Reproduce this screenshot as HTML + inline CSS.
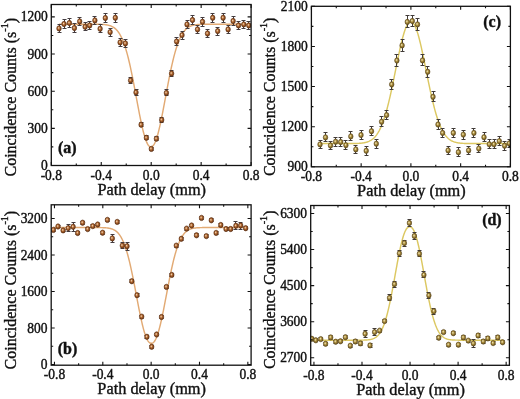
<!DOCTYPE html><html><head><meta charset="utf-8"><style>html,body{margin:0;padding:0;background:#fff;}svg{display:block;} .tx{stroke:#111;stroke-width:0.38px;}</style></head><body>
<svg width="520" height="399" viewBox="0 0 520 399">
<defs>
<radialGradient id="go" cx="0.45" cy="0.45" r="0.6" fx="0.4" fy="0.4"><stop offset="0" stop-color="#F6DCBE"/><stop offset="0.45" stop-color="#AE642C"/><stop offset="1" stop-color="#5E3014"/></radialGradient>
<radialGradient id="gy" cx="0.45" cy="0.45" r="0.6" fx="0.4" fy="0.4"><stop offset="0" stop-color="#F6EEC4"/><stop offset="0.45" stop-color="#AA8C3A"/><stop offset="1" stop-color="#5E4A1E"/></radialGradient>
</defs>
<rect width="520" height="399" fill="#fff"/>
<clipPath id="cla"><rect x="51.3" y="4.5" width="199.8" height="161"/></clipPath>
<g clip-path="url(#cla)">
<path d="M59 24.19L59.47 24.19L59.95 24.19L60.42 24.19L60.9 24.19L61.37 24.19L61.85 24.19L62.32 24.19L62.8 24.19L63.27 24.19L63.74 24.19L64.22 24.19L64.69 24.19L65.17 24.19L65.64 24.19L66.12 24.19L66.59 24.19L67.07 24.19L67.54 24.19L68.02 24.19L68.49 24.19L68.96 24.19L69.44 24.19L69.91 24.19L70.39 24.19L70.86 24.19L71.34 24.19L71.81 24.19L72.29 24.19L72.76 24.19L73.23 24.19L73.71 24.19L74.18 24.19L74.66 24.19L75.13 24.19L75.61 24.19L76.08 24.19L76.56 24.19L77.03 24.19L77.51 24.19L77.98 24.19L78.45 24.19L78.93 24.19L79.4 24.19L79.88 24.19L80.35 24.19L80.83 24.19L81.3 24.19L81.78 24.19L82.25 24.19L82.72 24.19L83.2 24.19L83.67 24.19L84.15 24.19L84.62 24.19L85.1 24.19L85.57 24.19L86.05 24.19L86.52 24.19L87 24.19L87.47 24.19L87.94 24.19L88.42 24.19L88.89 24.19L89.37 24.2L89.84 24.2L90.32 24.2L90.79 24.2L91.27 24.2L91.74 24.2L92.22 24.2L92.69 24.2L93.16 24.21L93.64 24.21L94.11 24.21L94.59 24.21L95.06 24.22L95.54 24.22L96.01 24.23L96.49 24.23L96.96 24.24L97.43 24.25L97.91 24.26L98.38 24.27L98.86 24.28L99.33 24.29L99.81 24.3L100.28 24.32L100.76 24.34L101.23 24.36L101.7 24.38L102.18 24.41L102.65 24.44L103.13 24.47L103.6 24.51L104.08 24.55L104.55 24.59L105.03 24.65L105.5 24.7L105.98 24.77L106.45 24.84L106.92 24.92L107.4 25.01L107.87 25.1L108.35 25.21L108.82 25.33L109.3 25.46L109.77 25.61L110.25 25.76L110.72 25.94L111.19 26.13L111.67 26.34L112.14 26.57L112.62 26.82L113.09 27.09L113.57 27.38L114.04 27.71L114.52 28.05L114.99 28.43L115.47 28.84L115.94 29.28L116.41 29.75L116.89 30.26L117.36 30.81L117.84 31.4L118.31 32.03L118.79 32.71L119.26 33.43L119.74 34.2L120.21 35.02L120.68 35.89L121.16 36.81L121.63 37.79L122.11 38.83L122.58 39.93L123.06 41.08L123.53 42.3L124.01 43.58L124.48 44.93L124.96 46.34L125.43 47.81L125.9 49.35L126.38 50.96L126.85 52.63L127.33 54.37L127.8 56.17L128.28 58.04L128.75 59.98L129.23 61.97L129.7 64.03L130.18 66.14L130.65 68.31L131.12 70.54L131.6 72.81L132.07 75.14L132.55 77.51L133.02 79.91L133.5 82.36L133.97 84.84L134.45 87.34L134.92 89.86L135.39 92.41L135.87 94.96L136.34 97.52L136.82 100.07L137.29 102.62L137.77 105.16L138.24 107.68L138.72 110.17L139.19 112.63L139.67 115.05L140.14 117.42L140.61 119.74L141.09 122L141.56 124.2L142.04 126.32L142.51 128.37L142.99 130.33L143.46 132.21L143.94 133.99L144.41 135.67L144.88 137.24L145.36 138.71L145.83 140.06L146.31 141.3L146.78 142.41L147.26 143.41L147.73 144.28L148.21 145.03L148.68 145.65L149.15 146.15L149.63 146.52L150.1 146.77L150.58 146.9L151.05 146.92L151.53 146.84L152 146.64L152.48 146.32L152.95 145.87L153.43 145.3L153.9 144.6L154.37 143.78L154.85 142.84L155.32 141.77L155.8 140.58L156.27 139.27L156.75 137.85L157.22 136.32L157.7 134.69L158.17 132.95L158.64 131.11L159.12 129.18L159.59 127.17L160.07 125.08L160.54 122.91L161.02 120.67L161.49 118.38L161.97 116.02L162.44 113.62L162.92 111.18L163.39 108.7L163.86 106.19L164.34 103.66L164.81 101.12L165.29 98.56L165.76 96L166.24 93.45L166.71 90.9L167.19 88.37L167.66 85.86L168.13 83.37L168.61 80.91L169.08 78.49L169.56 76.1L170.03 73.76L170.51 71.46L170.98 69.22L171.46 67.02L171.93 64.89L172.41 62.8L172.88 60.78L173.35 58.83L173.83 56.93L174.3 55.1L174.78 53.33L175.25 51.63L175.73 50L176.2 48.43L176.68 46.93L177.15 45.5L177.62 44.12L178.1 42.82L178.57 41.57L179.05 40.39L179.52 39.27L180 38.21L180.47 37.21L180.95 36.26L181.42 35.37L181.9 34.53L182.37 33.74L182.84 33L183.32 32.3L183.79 31.65L184.27 31.05L184.74 30.48L185.22 29.96L185.69 29.47L186.17 29.01L186.64 28.59L187.12 28.2L187.59 27.84L188.06 27.51L188.54 27.21L189.01 26.93L189.49 26.67L189.96 26.43L190.44 26.21L190.91 26.02L191.39 25.83L191.86 25.67L192.33 25.52L192.81 25.38L193.28 25.26L193.76 25.15L194.23 25.04L194.71 24.95L195.18 24.87L195.66 24.8L196.13 24.73L196.61 24.67L197.08 24.61L197.55 24.57L198.03 24.52L198.5 24.48L198.98 24.45L199.45 24.42L199.93 24.39L200.4 24.37L200.88 24.34L201.35 24.33L201.82 24.31L202.3 24.29L202.77 24.28L203.25 24.27L203.72 24.26L204.2 24.25L204.67 24.24L205.15 24.24L205.62 24.23L206.1 24.22L206.57 24.22L207.04 24.22L207.52 24.21L207.99 24.21L208.47 24.21L208.94 24.2L209.42 24.2L209.89 24.2L210.37 24.2L210.84 24.2L211.31 24.2L211.79 24.2L212.26 24.2L212.74 24.2L213.21 24.19L213.69 24.19L214.16 24.19L214.64 24.19L215.11 24.19L215.59 24.19L216.06 24.19L216.53 24.19L217.01 24.19L217.48 24.19L217.96 24.19L218.43 24.19L218.91 24.19L219.38 24.19L219.86 24.19L220.33 24.19L220.8 24.19L221.28 24.19L221.75 24.19L222.23 24.19L222.7 24.19L223.18 24.19L223.65 24.19L224.13 24.19L224.6 24.19L225.08 24.19L225.55 24.19L226.02 24.19L226.5 24.19L226.97 24.19L227.45 24.19L227.92 24.19L228.4 24.19L228.87 24.19L229.35 24.19L229.82 24.19L230.29 24.19L230.77 24.19L231.24 24.19L231.72 24.19L232.19 24.19L232.67 24.19L233.14 24.19L233.62 24.19L234.09 24.19L234.56 24.19L235.04 24.19L235.51 24.19L235.99 24.19L236.46 24.19L236.94 24.19L237.41 24.19L237.89 24.19L238.36 24.19L238.84 24.19L239.31 24.19L239.78 24.19L240.26 24.19L240.73 24.19L241.21 24.19L241.68 24.19L242.16 24.19L242.63 24.19L243.11 24.19L243.58 24.19L244.06 24.19L244.53 24.19L245 24.19L245.48 24.19L245.95 24.19L246.43 24.19L246.9 24.19L247.38 24.19L247.85 24.19L248.33 24.19L248.8 24.19" fill="none" stroke="#E2AA74" stroke-width="1.45"/>
<path d="M59.5 24.5V32.5M57.5 24.5h4M57.5 32.5h4M64.5 19.5V28.5M62.5 19.5h4M62.5 28.5h4M69.5 18.5V27.5M67.5 18.5h4M67.5 27.5h4M74.5 23.5V32.5M72.5 23.5h4M72.5 32.5h4M79.5 17.5V25.5M77.5 17.5h4M77.5 25.5h4M85.5 22.5V30.5M83.5 22.5h4M83.5 30.5h4M89.5 21.5V29.5M87.5 21.5h4M87.5 29.5h4M94.5 16.5V24.5M92.5 16.5h4M92.5 24.5h4M100.5 24.5V32.5M98.5 24.5h4M98.5 32.5h4M105.5 13.5V22.5M103.5 13.5h4M103.5 22.5h4M110.5 28.5V36.5M108.5 28.5h4M108.5 36.5h4M115.5 13.5V22.5M113.5 13.5h4M113.5 22.5h4M120.5 38.5V46.5M118.5 38.5h4M118.5 46.5h4M125.5 39.5V47.5M123.5 39.5h4M123.5 47.5h4M130.5 77.5V83.5M128.5 77.5h4M128.5 83.5h4M136.5 89.5V95.5M134.5 89.5h4M134.5 95.5h4M141.5 122.5V126.5M139.5 122.5h4M139.5 126.5h4M146.5 135.5V139.5M144.5 135.5h4M144.5 139.5h4M151.5 147.5V150.5M149.5 147.5h4M149.5 150.5h4M156.5 136.5V140.5M154.5 136.5h4M154.5 140.5h4M161.5 117.5V122.5M159.5 117.5h4M159.5 122.5h4M166.5 89.5V95.5M164.5 89.5h4M164.5 95.5h4M171.5 70.5V76.5M169.5 70.5h4M169.5 76.5h4M176.5 37.5V45.5M174.5 37.5h4M174.5 45.5h4M182.5 31.5V39.5M180.5 31.5h4M180.5 39.5h4M187.5 20.5V28.5M185.5 20.5h4M185.5 28.5h4M192.5 15.5V24.5M190.5 15.5h4M190.5 24.5h4M197.5 25.5V33.5M195.5 25.5h4M195.5 33.5h4M202.5 17.5V26.5M200.5 17.5h4M200.5 26.5h4M207.5 29.5V37.5M205.5 29.5h4M205.5 37.5h4M212.5 13.5V22.5M210.5 13.5h4M210.5 22.5h4M217.5 27.5V35.5M215.5 27.5h4M215.5 35.5h4M223.5 13.5V22.5M221.5 13.5h4M221.5 22.5h4M228.5 25.5V33.5M226.5 25.5h4M226.5 33.5h4M233.5 16.5V25.5M231.5 16.5h4M231.5 25.5h4M238.5 21.5V29.5M236.5 21.5h4M236.5 29.5h4M243.5 20.5V28.5M241.5 20.5h4M241.5 28.5h4M248.5 21.5V29.5M246.5 21.5h4M246.5 29.5h4" stroke="#433C40" stroke-width="1" fill="none"/>
<ellipse cx="59" cy="28.4" rx="2.25" ry="2.7" fill="url(#go)" stroke="#5E3014" stroke-width="0.6"/>
<ellipse cx="64" cy="24" rx="2.25" ry="2.7" fill="url(#go)" stroke="#5E3014" stroke-width="0.6"/>
<ellipse cx="69.4" cy="23" rx="2.25" ry="2.7" fill="url(#go)" stroke="#5E3014" stroke-width="0.6"/>
<ellipse cx="74.4" cy="28" rx="2.25" ry="2.7" fill="url(#go)" stroke="#5E3014" stroke-width="0.6"/>
<ellipse cx="79.7" cy="21.4" rx="2.25" ry="2.7" fill="url(#go)" stroke="#5E3014" stroke-width="0.6"/>
<ellipse cx="85.1" cy="26.8" rx="2.25" ry="2.7" fill="url(#go)" stroke="#5E3014" stroke-width="0.6"/>
<ellipse cx="89.7" cy="25.4" rx="2.25" ry="2.7" fill="url(#go)" stroke="#5E3014" stroke-width="0.6"/>
<ellipse cx="94.9" cy="20.4" rx="2.25" ry="2.7" fill="url(#go)" stroke="#5E3014" stroke-width="0.6"/>
<ellipse cx="100.1" cy="28.8" rx="2.25" ry="2.7" fill="url(#go)" stroke="#5E3014" stroke-width="0.6"/>
<ellipse cx="105.3" cy="18" rx="2.25" ry="2.7" fill="url(#go)" stroke="#5E3014" stroke-width="0.6"/>
<ellipse cx="110.1" cy="32.1" rx="2.25" ry="2.7" fill="url(#go)" stroke="#5E3014" stroke-width="0.6"/>
<ellipse cx="115.3" cy="17.8" rx="2.25" ry="2.7" fill="url(#go)" stroke="#5E3014" stroke-width="0.6"/>
<ellipse cx="120.1" cy="42.4" rx="2.25" ry="2.7" fill="url(#go)" stroke="#5E3014" stroke-width="0.6"/>
<ellipse cx="125.4" cy="43.4" rx="2.25" ry="2.7" fill="url(#go)" stroke="#5E3014" stroke-width="0.6"/>
<ellipse cx="130.6" cy="80.4" rx="2.25" ry="2.7" fill="url(#go)" stroke="#5E3014" stroke-width="0.6"/>
<ellipse cx="136" cy="92.4" rx="2.25" ry="2.7" fill="url(#go)" stroke="#5E3014" stroke-width="0.6"/>
<ellipse cx="141.1" cy="124.7" rx="2.25" ry="2.7" fill="url(#go)" stroke="#5E3014" stroke-width="0.6"/>
<ellipse cx="146.4" cy="137.8" rx="2.25" ry="2.7" fill="url(#go)" stroke="#5E3014" stroke-width="0.6"/>
<ellipse cx="151.3" cy="148.9" rx="2.25" ry="2.7" fill="url(#go)" stroke="#5E3014" stroke-width="0.6"/>
<ellipse cx="156.4" cy="138.7" rx="2.25" ry="2.7" fill="url(#go)" stroke="#5E3014" stroke-width="0.6"/>
<ellipse cx="161.7" cy="119.9" rx="2.25" ry="2.7" fill="url(#go)" stroke="#5E3014" stroke-width="0.6"/>
<ellipse cx="166.4" cy="92.9" rx="2.25" ry="2.7" fill="url(#go)" stroke="#5E3014" stroke-width="0.6"/>
<ellipse cx="171.6" cy="73.5" rx="2.25" ry="2.7" fill="url(#go)" stroke="#5E3014" stroke-width="0.6"/>
<ellipse cx="176.6" cy="41.5" rx="2.25" ry="2.7" fill="url(#go)" stroke="#5E3014" stroke-width="0.6"/>
<ellipse cx="182" cy="35.1" rx="2.25" ry="2.7" fill="url(#go)" stroke="#5E3014" stroke-width="0.6"/>
<ellipse cx="187" cy="24.4" rx="2.25" ry="2.7" fill="url(#go)" stroke="#5E3014" stroke-width="0.6"/>
<ellipse cx="192.5" cy="20" rx="2.25" ry="2.7" fill="url(#go)" stroke="#5E3014" stroke-width="0.6"/>
<ellipse cx="197.5" cy="29.4" rx="2.25" ry="2.7" fill="url(#go)" stroke="#5E3014" stroke-width="0.6"/>
<ellipse cx="202.5" cy="21.8" rx="2.25" ry="2.7" fill="url(#go)" stroke="#5E3014" stroke-width="0.6"/>
<ellipse cx="207.5" cy="33.5" rx="2.25" ry="2.7" fill="url(#go)" stroke="#5E3014" stroke-width="0.6"/>
<ellipse cx="212.7" cy="17.8" rx="2.25" ry="2.7" fill="url(#go)" stroke="#5E3014" stroke-width="0.6"/>
<ellipse cx="217.7" cy="31.1" rx="2.25" ry="2.7" fill="url(#go)" stroke="#5E3014" stroke-width="0.6"/>
<ellipse cx="223.1" cy="17.8" rx="2.25" ry="2.7" fill="url(#go)" stroke="#5E3014" stroke-width="0.6"/>
<ellipse cx="228.1" cy="29.4" rx="2.25" ry="2.7" fill="url(#go)" stroke="#5E3014" stroke-width="0.6"/>
<ellipse cx="233.1" cy="21" rx="2.25" ry="2.7" fill="url(#go)" stroke="#5E3014" stroke-width="0.6"/>
<ellipse cx="238.5" cy="25.4" rx="2.25" ry="2.7" fill="url(#go)" stroke="#5E3014" stroke-width="0.6"/>
<ellipse cx="243.8" cy="24.4" rx="2.25" ry="2.7" fill="url(#go)" stroke="#5E3014" stroke-width="0.6"/>
<ellipse cx="248.8" cy="25.4" rx="2.25" ry="2.7" fill="url(#go)" stroke="#5E3014" stroke-width="0.6"/>
</g>
<rect x="51.3" y="4.5" width="199.8" height="161" fill="none" stroke="#111" stroke-width="1.3"/>
<path d="M51.3 165.5v-3.5M51.3 4.5v3.5M101.25 165.5v-3.5M101.25 4.5v3.5M151.2 165.5v-3.5M151.2 4.5v3.5M201.15 165.5v-3.5M201.15 4.5v3.5M251.1 165.5v-3.5M251.1 4.5v3.5M76.28 165.5v-2M76.28 4.5v2M126.23 165.5v-2M126.23 4.5v2M176.18 165.5v-2M176.18 4.5v2M226.12 165.5v-2M226.12 4.5v2M51.3 165.5h3.5M251.1 165.5h-3.5M51.3 128.35h3.5M251.1 128.35h-3.5M51.3 91.19h3.5M251.1 91.19h-3.5M51.3 54.04h3.5M251.1 54.04h-3.5M51.3 16.88h3.5M251.1 16.88h-3.5M51.3 146.92h2M251.1 146.92h-2M51.3 109.77h2M251.1 109.77h-2M51.3 72.62h2M251.1 72.62h-2M51.3 35.46h2M251.1 35.46h-2" stroke="#111" stroke-width="1.1" fill="none"/>
<g font-family='"Liberation Serif", "Times New Roman", serif' font-size="13.5" fill="#111" class="tx">
<text transform="translate(51.3 179.7) scale(1 1.15)" text-anchor="middle">-0.8</text>
<text transform="translate(101.25 179.7) scale(1 1.15)" text-anchor="middle">-0.4</text>
<text transform="translate(151.2 179.7) scale(1 1.15)" text-anchor="middle">0.0</text>
<text transform="translate(201.15 179.7) scale(1 1.15)" text-anchor="middle">0.4</text>
<text transform="translate(251.1 179.7) scale(1 1.15)" text-anchor="middle">0.8</text>
<text transform="translate(47.7 170.1) scale(1 1.15)" text-anchor="end">0</text>
<text transform="translate(47.7 132.95) scale(1 1.15)" text-anchor="end">300</text>
<text transform="translate(47.7 95.79) scale(1 1.15)" text-anchor="end">600</text>
<text transform="translate(47.7 58.64) scale(1 1.15)" text-anchor="end">900</text>
<text transform="translate(47.7 21.48) scale(1 1.15)" text-anchor="end">1200</text>
</g>
<text transform="translate(151.7 194.7) scale(1 1.07)" text-anchor="middle" font-family='"Liberation Serif", "Times New Roman", serif' font-size="16.3" fill="#111" class="tx">Path delay (mm)</text>
<text transform="translate(15.6 97.25) rotate(-90)" text-anchor="middle" font-family='"Liberation Serif", "Times New Roman", serif' font-size="16" fill="#111" class="tx">Coincidence Counts (s<tspan font-size="10" dy="-7.5">-1</tspan><tspan dy="7.5">)</tspan></text>
<text transform="translate(58 152.5) scale(1 1.08)" text-anchor="start" font-family='"Liberation Serif", "Times New Roman", serif' font-size="16" font-weight="bold" fill="#111" class="tx">(a)</text>
<clipPath id="clb"><rect x="51.2" y="204.8" width="199.9" height="160.4"/></clipPath>
<g clip-path="url(#clb)">
<path d="M53.4 227.54L53.88 227.54L54.36 227.54L54.84 227.54L55.32 227.54L55.8 227.54L56.28 227.54L56.77 227.54L57.25 227.54L57.73 227.54L58.21 227.54L58.69 227.54L59.17 227.54L59.65 227.54L60.13 227.54L60.61 227.54L61.09 227.54L61.57 227.54L62.05 227.54L62.53 227.54L63.01 227.54L63.5 227.54L63.98 227.54L64.46 227.54L64.94 227.54L65.42 227.54L65.9 227.54L66.38 227.54L66.86 227.54L67.34 227.54L67.82 227.54L68.3 227.54L68.78 227.54L69.26 227.54L69.75 227.54L70.23 227.54L70.71 227.54L71.19 227.54L71.67 227.54L72.15 227.54L72.63 227.54L73.11 227.54L73.59 227.54L74.07 227.54L74.55 227.54L75.03 227.54L75.51 227.54L76 227.54L76.48 227.54L76.96 227.54L77.44 227.54L77.92 227.54L78.4 227.54L78.88 227.54L79.36 227.54L79.84 227.54L80.32 227.54L80.8 227.54L81.28 227.54L81.76 227.54L82.25 227.54L82.73 227.54L83.21 227.54L83.69 227.54L84.17 227.54L84.65 227.54L85.13 227.54L85.61 227.54L86.09 227.54L86.57 227.54L87.05 227.54L87.53 227.54L88.01 227.54L88.49 227.54L88.98 227.54L89.46 227.54L89.94 227.54L90.42 227.54L90.9 227.54L91.38 227.54L91.86 227.54L92.34 227.54L92.82 227.54L93.3 227.54L93.78 227.54L94.26 227.54L94.74 227.55L95.23 227.55L95.71 227.55L96.19 227.55L96.67 227.55L97.15 227.56L97.63 227.56L98.11 227.56L98.59 227.57L99.07 227.57L99.55 227.58L100.03 227.59L100.51 227.59L100.99 227.6L101.47 227.61L101.96 227.63L102.44 227.64L102.92 227.66L103.4 227.67L103.88 227.7L104.36 227.72L104.84 227.75L105.32 227.78L105.8 227.82L106.28 227.86L106.76 227.9L107.24 227.96L107.72 228.02L108.21 228.08L108.69 228.16L109.17 228.24L109.65 228.34L110.13 228.44L110.61 228.56L111.09 228.69L111.57 228.84L112.05 229L112.53 229.18L113.01 229.37L113.49 229.59L113.97 229.83L114.46 230.1L114.94 230.38L115.42 230.7L115.9 231.05L116.38 231.43L116.86 231.84L117.34 232.29L117.82 232.77L118.3 233.3L118.78 233.87L119.26 234.48L119.74 235.14L120.22 235.85L120.7 236.62L121.19 237.43L121.67 238.31L122.15 239.24L122.63 240.23L123.11 241.28L123.59 242.4L124.07 243.58L124.55 244.83L125.03 246.15L125.51 247.54L125.99 248.99L126.47 250.52L126.95 252.12L127.44 253.79L127.92 255.53L128.4 257.34L128.88 259.22L129.36 261.16L129.84 263.17L130.32 265.24L130.8 267.38L131.28 269.57L131.76 271.82L132.24 274.12L132.72 276.46L133.2 278.85L133.69 281.28L134.17 283.73L134.65 286.22L135.13 288.73L135.61 291.25L136.09 293.78L136.57 296.32L137.05 298.85L137.53 301.37L138.01 303.88L138.49 306.36L138.97 308.81L139.45 311.22L139.94 313.58L140.42 315.89L140.9 318.15L141.38 320.34L141.86 322.45L142.34 324.49L142.82 326.44L143.3 328.31L143.78 330.08L144.26 331.74L144.74 333.31L145.22 334.77L145.7 336.11L146.18 337.35L146.67 338.46L147.15 339.46L147.63 340.34L148.11 341.11L148.59 341.75L149.07 342.28L149.55 342.69L150.03 342.99L150.51 343.19L150.99 343.29L151.47 343.31L151.95 343.25L152.43 343.11L152.92 342.86L153.4 342.5L153.88 342.04L154.36 341.45L154.84 340.75L155.32 339.93L155.8 338.99L156.28 337.93L156.76 336.76L157.24 335.47L157.72 334.07L158.2 332.56L158.68 330.94L159.16 329.22L159.65 327.41L160.13 325.5L160.61 323.5L161.09 321.43L161.57 319.27L162.05 317.05L162.53 314.77L163.01 312.43L163.49 310.04L163.97 307.61L164.45 305.15L164.93 302.65L165.41 300.14L165.9 297.61L166.38 295.08L166.86 292.54L167.34 290.01L167.82 287.5L168.3 285L168.78 282.53L169.26 280.08L169.74 277.68L170.22 275.31L170.7 272.99L171.18 270.71L171.66 268.49L172.15 266.33L172.63 264.22L173.11 262.18L173.59 260.2L174.07 258.29L174.55 256.45L175.03 254.67L175.51 252.96L175.99 251.33L176.47 249.77L176.95 248.27L177.43 246.85L177.91 245.5L178.4 244.21L178.88 243L179.36 241.84L179.84 240.76L180.32 239.74L180.8 238.77L181.28 237.87L181.76 237.03L182.24 236.24L182.72 235.5L183.2 234.81L183.68 234.18L184.16 233.58L184.64 233.04L185.13 232.53L185.61 232.06L186.09 231.63L186.57 231.24L187.05 230.88L187.53 230.54L188.01 230.24L188.49 229.96L188.97 229.71L189.45 229.48L189.93 229.27L190.41 229.09L190.89 228.92L191.38 228.76L191.86 228.62L192.34 228.5L192.82 228.39L193.3 228.29L193.78 228.2L194.26 228.12L194.74 228.05L195.22 227.99L195.7 227.93L196.18 227.88L196.66 227.84L197.14 227.8L197.62 227.76L198.11 227.73L198.59 227.71L199.07 227.69L199.55 227.67L200.03 227.65L200.51 227.63L200.99 227.62L201.47 227.61L201.95 227.6L202.43 227.59L202.91 227.58L203.39 227.58L203.87 227.57L204.36 227.57L204.84 227.56L205.32 227.56L205.8 227.55L206.28 227.55L206.76 227.55L207.24 227.55L207.72 227.55L208.2 227.55L208.68 227.54L209.16 227.54L209.64 227.54L210.12 227.54L210.61 227.54L211.09 227.54L211.57 227.54L212.05 227.54L212.53 227.54L213.01 227.54L213.49 227.54L213.97 227.54L214.45 227.54L214.93 227.54L215.41 227.54L215.89 227.54L216.37 227.54L216.86 227.54L217.34 227.54L217.82 227.54L218.3 227.54L218.78 227.54L219.26 227.54L219.74 227.54L220.22 227.54L220.7 227.54L221.18 227.54L221.66 227.54L222.14 227.54L222.62 227.54L223.1 227.54L223.59 227.54L224.07 227.54L224.55 227.54L225.03 227.54L225.51 227.54L225.99 227.54L226.47 227.54L226.95 227.54L227.43 227.54L227.91 227.54L228.39 227.54L228.87 227.54L229.35 227.54L229.84 227.54L230.32 227.54L230.8 227.54L231.28 227.54L231.76 227.54L232.24 227.54L232.72 227.54L233.2 227.54L233.68 227.54L234.16 227.54L234.64 227.54L235.12 227.54L235.6 227.54L236.08 227.54L236.57 227.54L237.05 227.54L237.53 227.54L238.01 227.54L238.49 227.54L238.97 227.54L239.45 227.54L239.93 227.54L240.41 227.54L240.89 227.54L241.37 227.54L241.85 227.54L242.33 227.54L242.82 227.54L243.3 227.54L243.78 227.54L244.26 227.54L244.74 227.54L245.22 227.54L245.7 227.54" fill="none" stroke="#E2AA74" stroke-width="1.45"/>
<path d="M53.5 228.5V231.5M51.5 228.5h4M51.5 231.5h4M58.5 225.5V227.5M56.5 225.5h4M56.5 227.5h4M63.5 229.5V231.5M61.5 229.5h4M61.5 231.5h4M68.5 224.5V231.5M66.5 224.5h4M66.5 231.5h4M73.5 222.5V231.5M71.5 222.5h4M71.5 231.5h4M77.5 231.5V234.5M75.5 231.5h4M75.5 234.5h4M82.5 221.5V224.5M80.5 221.5h4M80.5 224.5h4M87.5 227.5V230.5M85.5 227.5h4M85.5 230.5h4M92.5 224.5V227.5M90.5 224.5h4M90.5 227.5h4M97.5 223.5V225.5M95.5 223.5h4M95.5 225.5h4M102.5 231.5V234.5M100.5 231.5h4M100.5 234.5h4M107.5 218.5V221.5M105.5 218.5h4M105.5 221.5h4M112.5 234.5V242.5M110.5 234.5h4M110.5 242.5h4M117.5 220.5V223.5M115.5 220.5h4M115.5 223.5h4M122.5 242.5V248.5M120.5 242.5h4M120.5 248.5h4M127.5 242.5V250.5M125.5 242.5h4M125.5 250.5h4M131.5 279.5V282.5M129.5 279.5h4M129.5 282.5h4M137.5 293.5V296.5M135.5 293.5h4M135.5 296.5h4M141.5 315.5V318.5M139.5 315.5h4M139.5 318.5h4M146.5 335.5V338.5M144.5 335.5h4M144.5 338.5h4M151.5 345.5V348.5M149.5 345.5h4M149.5 348.5h4M156.5 333.5V335.5M154.5 333.5h4M154.5 335.5h4M161.5 315.5V318.5M159.5 315.5h4M159.5 318.5h4M166.5 285.5V288.5M164.5 285.5h4M164.5 288.5h4M171.5 273.5V276.5M169.5 273.5h4M169.5 276.5h4M176.5 244.5V247.5M174.5 244.5h4M174.5 247.5h4M181.5 237.5V240.5M179.5 237.5h4M179.5 240.5h4M186.5 227.5V230.5M184.5 227.5h4M184.5 230.5h4M191.5 224.5V226.5M189.5 224.5h4M189.5 226.5h4M196.5 233.5V236.5M194.5 233.5h4M194.5 236.5h4M201.5 216.5V219.5M199.5 216.5h4M199.5 219.5h4M206.5 234.5V237.5M204.5 234.5h4M204.5 237.5h4M211.5 218.5V221.5M209.5 218.5h4M209.5 221.5h4M216.5 231.5V234.5M214.5 231.5h4M214.5 234.5h4M220.5 223.5V226.5M218.5 223.5h4M218.5 226.5h4M226.5 227.5V230.5M224.5 227.5h4M224.5 230.5h4M230.5 227.5V230.5M228.5 227.5h4M228.5 230.5h4M235.5 221.5V229.5M233.5 221.5h4M233.5 229.5h4M240.5 222.5V229.5M238.5 222.5h4M238.5 229.5h4M245.5 226.5V229.5M243.5 226.5h4M243.5 229.5h4" stroke="#433C40" stroke-width="1" fill="none"/>
<ellipse cx="53.4" cy="229.9" rx="2.25" ry="2.7" fill="url(#go)" stroke="#5E3014" stroke-width="0.6"/>
<ellipse cx="58" cy="226.5" rx="2.25" ry="2.7" fill="url(#go)" stroke="#5E3014" stroke-width="0.6"/>
<ellipse cx="63.1" cy="230.4" rx="2.25" ry="2.7" fill="url(#go)" stroke="#5E3014" stroke-width="0.6"/>
<ellipse cx="68.2" cy="228.1" rx="2.25" ry="2.7" fill="url(#go)" stroke="#5E3014" stroke-width="0.6"/>
<ellipse cx="73.1" cy="226.8" rx="2.25" ry="2.7" fill="url(#go)" stroke="#5E3014" stroke-width="0.6"/>
<ellipse cx="77.7" cy="233" rx="2.25" ry="2.7" fill="url(#go)" stroke="#5E3014" stroke-width="0.6"/>
<ellipse cx="82.6" cy="222.7" rx="2.25" ry="2.7" fill="url(#go)" stroke="#5E3014" stroke-width="0.6"/>
<ellipse cx="87.7" cy="229.1" rx="2.25" ry="2.7" fill="url(#go)" stroke="#5E3014" stroke-width="0.6"/>
<ellipse cx="92.8" cy="226.1" rx="2.25" ry="2.7" fill="url(#go)" stroke="#5E3014" stroke-width="0.6"/>
<ellipse cx="97.7" cy="224.5" rx="2.25" ry="2.7" fill="url(#go)" stroke="#5E3014" stroke-width="0.6"/>
<ellipse cx="102.6" cy="232.7" rx="2.25" ry="2.7" fill="url(#go)" stroke="#5E3014" stroke-width="0.6"/>
<ellipse cx="107.4" cy="219.9" rx="2.25" ry="2.7" fill="url(#go)" stroke="#5E3014" stroke-width="0.6"/>
<ellipse cx="112.3" cy="238.4" rx="2.25" ry="2.7" fill="url(#go)" stroke="#5E3014" stroke-width="0.6"/>
<ellipse cx="117.2" cy="221.9" rx="2.25" ry="2.7" fill="url(#go)" stroke="#5E3014" stroke-width="0.6"/>
<ellipse cx="122.3" cy="245.6" rx="2.25" ry="2.7" fill="url(#go)" stroke="#5E3014" stroke-width="0.6"/>
<ellipse cx="127" cy="246.2" rx="2.25" ry="2.7" fill="url(#go)" stroke="#5E3014" stroke-width="0.6"/>
<ellipse cx="131.8" cy="281.2" rx="2.25" ry="2.7" fill="url(#go)" stroke="#5E3014" stroke-width="0.6"/>
<ellipse cx="137" cy="295.2" rx="2.25" ry="2.7" fill="url(#go)" stroke="#5E3014" stroke-width="0.6"/>
<ellipse cx="141.7" cy="316.6" rx="2.25" ry="2.7" fill="url(#go)" stroke="#5E3014" stroke-width="0.6"/>
<ellipse cx="146.9" cy="336.8" rx="2.25" ry="2.7" fill="url(#go)" stroke="#5E3014" stroke-width="0.6"/>
<ellipse cx="151.7" cy="346.8" rx="2.25" ry="2.7" fill="url(#go)" stroke="#5E3014" stroke-width="0.6"/>
<ellipse cx="156.6" cy="334.5" rx="2.25" ry="2.7" fill="url(#go)" stroke="#5E3014" stroke-width="0.6"/>
<ellipse cx="161.5" cy="317" rx="2.25" ry="2.7" fill="url(#go)" stroke="#5E3014" stroke-width="0.6"/>
<ellipse cx="166.4" cy="286.9" rx="2.25" ry="2.7" fill="url(#go)" stroke="#5E3014" stroke-width="0.6"/>
<ellipse cx="171.8" cy="274.9" rx="2.25" ry="2.7" fill="url(#go)" stroke="#5E3014" stroke-width="0.6"/>
<ellipse cx="176.3" cy="245.6" rx="2.25" ry="2.7" fill="url(#go)" stroke="#5E3014" stroke-width="0.6"/>
<ellipse cx="181.3" cy="238.8" rx="2.25" ry="2.7" fill="url(#go)" stroke="#5E3014" stroke-width="0.6"/>
<ellipse cx="186.6" cy="228.6" rx="2.25" ry="2.7" fill="url(#go)" stroke="#5E3014" stroke-width="0.6"/>
<ellipse cx="191.6" cy="225.5" rx="2.25" ry="2.7" fill="url(#go)" stroke="#5E3014" stroke-width="0.6"/>
<ellipse cx="196.5" cy="235.3" rx="2.25" ry="2.7" fill="url(#go)" stroke="#5E3014" stroke-width="0.6"/>
<ellipse cx="201.5" cy="217.9" rx="2.25" ry="2.7" fill="url(#go)" stroke="#5E3014" stroke-width="0.6"/>
<ellipse cx="206.3" cy="236.1" rx="2.25" ry="2.7" fill="url(#go)" stroke="#5E3014" stroke-width="0.6"/>
<ellipse cx="211.3" cy="220.3" rx="2.25" ry="2.7" fill="url(#go)" stroke="#5E3014" stroke-width="0.6"/>
<ellipse cx="216.1" cy="232.9" rx="2.25" ry="2.7" fill="url(#go)" stroke="#5E3014" stroke-width="0.6"/>
<ellipse cx="220.8" cy="225" rx="2.25" ry="2.7" fill="url(#go)" stroke="#5E3014" stroke-width="0.6"/>
<ellipse cx="226" cy="229" rx="2.25" ry="2.7" fill="url(#go)" stroke="#5E3014" stroke-width="0.6"/>
<ellipse cx="230.7" cy="229" rx="2.25" ry="2.7" fill="url(#go)" stroke="#5E3014" stroke-width="0.6"/>
<ellipse cx="235.9" cy="225.8" rx="2.25" ry="2.7" fill="url(#go)" stroke="#5E3014" stroke-width="0.6"/>
<ellipse cx="240.7" cy="225.5" rx="2.25" ry="2.7" fill="url(#go)" stroke="#5E3014" stroke-width="0.6"/>
<ellipse cx="245.7" cy="228.2" rx="2.25" ry="2.7" fill="url(#go)" stroke="#5E3014" stroke-width="0.6"/>
</g>
<rect x="51.2" y="204.8" width="199.9" height="160.4" fill="none" stroke="#111" stroke-width="1.3"/>
<path d="M54.46 365.2v-3.5M54.46 204.8v3.5M102.81 365.2v-3.5M102.81 204.8v3.5M151.15 365.2v-3.5M151.15 204.8v3.5M199.49 365.2v-3.5M199.49 204.8v3.5M247.84 365.2v-3.5M247.84 204.8v3.5M78.63 365.2v-2M78.63 204.8v2M126.98 365.2v-2M126.98 204.8v2M175.32 365.2v-2M175.32 204.8v2M223.67 365.2v-2M223.67 204.8v2M51.2 364.52h3.5M251.1 364.52h-3.5M51.2 328.01h3.5M251.1 328.01h-3.5M51.2 291.5h3.5M251.1 291.5h-3.5M51.2 255h3.5M251.1 255h-3.5M51.2 218.49h3.5M251.1 218.49h-3.5M51.2 346.26h2M251.1 346.26h-2M51.2 309.76h2M251.1 309.76h-2M51.2 273.25h2M251.1 273.25h-2M51.2 236.74h2M251.1 236.74h-2" stroke="#111" stroke-width="1.1" fill="none"/>
<g font-family='"Liberation Serif", "Times New Roman", serif' font-size="13.5" fill="#111" class="tx">
<text transform="translate(54.46 379.4) scale(1 1.15)" text-anchor="middle">-0.8</text>
<text transform="translate(102.81 379.4) scale(1 1.15)" text-anchor="middle">-0.4</text>
<text transform="translate(151.15 379.4) scale(1 1.15)" text-anchor="middle">0.0</text>
<text transform="translate(199.49 379.4) scale(1 1.15)" text-anchor="middle">0.4</text>
<text transform="translate(247.84 379.4) scale(1 1.15)" text-anchor="middle">0.8</text>
<text transform="translate(47.6 369.12) scale(1 1.15)" text-anchor="end">0</text>
<text transform="translate(47.6 332.61) scale(1 1.15)" text-anchor="end">800</text>
<text transform="translate(47.6 296.1) scale(1 1.15)" text-anchor="end">1600</text>
<text transform="translate(47.6 259.6) scale(1 1.15)" text-anchor="end">2400</text>
<text transform="translate(47.6 223.09) scale(1 1.15)" text-anchor="end">3200</text>
</g>
<text transform="translate(151.65 394.4) scale(1 1.07)" text-anchor="middle" font-family='"Liberation Serif", "Times New Roman", serif' font-size="16.3" fill="#111" class="tx">Path delay (mm)</text>
<text transform="translate(15.7 290.15) rotate(-90)" text-anchor="middle" font-family='"Liberation Serif", "Times New Roman", serif' font-size="16" fill="#111" class="tx">Coincidence Counts (s<tspan font-size="10" dy="-7.5">-1</tspan><tspan dy="7.5">)</tspan></text>
<text transform="translate(57.7 353.5) scale(1 1.08)" text-anchor="start" font-family='"Liberation Serif", "Times New Roman", serif' font-size="16" font-weight="bold" fill="#111" class="tx">(b)</text>
<clipPath id="clc"><rect x="311.4" y="6.3" width="199" height="160.5"/></clipPath>
<g clip-path="url(#clc)">
<path d="M320 143.59L320.47 143.59L320.95 143.59L321.42 143.59L321.89 143.59L322.37 143.59L322.84 143.59L323.31 143.59L323.79 143.59L324.26 143.59L324.73 143.59L325.21 143.59L325.68 143.59L326.15 143.59L326.63 143.59L327.1 143.59L327.57 143.59L328.05 143.59L328.52 143.59L328.99 143.59L329.46 143.59L329.94 143.59L330.41 143.59L330.88 143.59L331.36 143.59L331.83 143.59L332.3 143.59L332.78 143.59L333.25 143.59L333.72 143.59L334.2 143.59L334.67 143.59L335.14 143.59L335.62 143.59L336.09 143.59L336.56 143.59L337.04 143.59L337.51 143.59L337.98 143.59L338.46 143.59L338.93 143.59L339.4 143.59L339.88 143.59L340.35 143.59L340.82 143.59L341.3 143.59L341.77 143.59L342.24 143.59L342.72 143.59L343.19 143.59L343.66 143.59L344.14 143.59L344.61 143.59L345.08 143.59L345.56 143.59L346.03 143.59L346.5 143.59L346.98 143.58L347.45 143.58L347.92 143.58L348.39 143.58L348.87 143.58L349.34 143.57L349.81 143.57L350.29 143.57L350.76 143.56L351.23 143.56L351.71 143.56L352.18 143.55L352.65 143.54L353.13 143.54L353.6 143.53L354.07 143.52L354.55 143.51L355.02 143.5L355.49 143.49L355.97 143.47L356.44 143.46L356.91 143.44L357.39 143.42L357.86 143.4L358.33 143.37L358.81 143.35L359.28 143.32L359.75 143.28L360.23 143.25L360.7 143.2L361.17 143.16L361.65 143.11L362.12 143.05L362.59 142.99L363.07 142.93L363.54 142.85L364.01 142.77L364.49 142.68L364.96 142.58L365.43 142.48L365.91 142.36L366.38 142.23L366.85 142.09L367.32 141.94L367.8 141.78L368.27 141.6L368.74 141.41L369.22 141.2L369.69 140.97L370.16 140.72L370.64 140.46L371.11 140.17L371.58 139.86L372.06 139.53L372.53 139.17L373 138.79L373.48 138.38L373.95 137.94L374.42 137.47L374.9 136.97L375.37 136.43L375.84 135.86L376.32 135.25L376.79 134.61L377.26 133.92L377.74 133.2L378.21 132.43L378.68 131.61L379.16 130.76L379.63 129.85L380.1 128.9L380.58 127.89L381.05 126.84L381.52 125.74L382 124.58L382.47 123.37L382.94 122.1L383.42 120.78L383.89 119.41L384.36 117.98L384.84 116.49L385.31 114.95L385.78 113.35L386.25 111.7L386.73 109.99L387.2 108.22L387.67 106.41L388.15 104.54L388.62 102.62L389.09 100.65L389.57 98.64L390.04 96.58L390.51 94.47L390.99 92.33L391.46 90.15L391.93 87.93L392.41 85.68L392.88 83.41L393.35 81.11L393.83 78.79L394.3 76.45L394.77 74.11L395.25 71.75L395.72 69.39L396.19 67.04L396.67 64.69L397.14 62.35L397.61 60.03L398.09 57.73L398.56 55.46L399.03 53.23L399.51 51.03L399.98 48.87L400.45 46.76L400.93 44.71L401.4 42.72L401.87 40.79L402.35 38.93L402.82 37.15L403.29 35.44L403.77 33.82L404.24 32.28L404.71 30.84L405.19 29.49L405.66 28.24L406.13 27.09L406.6 26.05L407.08 25.11L407.55 24.29L408.02 23.57L408.5 22.97L408.97 22.48L409.44 22.11L409.92 21.84L410.39 21.7L410.86 21.66L411.34 21.72L411.81 21.89L412.28 22.18L412.76 22.58L413.23 23.09L413.7 23.72L414.18 24.46L414.65 25.31L415.12 26.26L415.6 27.33L416.07 28.5L416.54 29.77L417.02 31.14L417.49 32.6L417.96 34.16L418.44 35.8L418.91 37.52L419.38 39.33L419.86 41.2L420.33 43.14L420.8 45.15L421.28 47.21L421.75 49.33L422.22 51.5L422.7 53.71L423.17 55.95L423.64 58.23L424.12 60.53L424.59 62.85L425.06 65.19L425.53 67.54L426.01 69.9L426.48 72.26L426.95 74.61L427.43 76.96L427.9 79.29L428.37 81.61L428.85 83.9L429.32 86.17L429.79 88.41L430.27 90.62L430.74 92.79L431.21 94.93L431.69 97.02L432.16 99.08L432.63 101.08L433.11 103.04L433.58 104.95L434.05 106.8L434.53 108.61L435 110.36L435.47 112.06L435.95 113.7L436.42 115.29L436.89 116.82L437.37 118.29L437.84 119.71L438.31 121.07L438.79 122.38L439.26 123.64L439.73 124.83L440.21 125.98L440.68 127.07L441.15 128.12L441.63 129.11L442.1 130.05L442.57 130.94L443.04 131.79L443.52 132.6L443.99 133.36L444.46 134.07L444.94 134.75L445.41 135.39L445.88 135.99L446.36 136.55L446.83 137.08L447.3 137.57L447.78 138.04L448.25 138.47L448.72 138.87L449.2 139.25L449.67 139.6L450.14 139.93L450.62 140.23L451.09 140.52L451.56 140.78L452.04 141.02L452.51 141.24L452.98 141.45L453.46 141.64L453.93 141.82L454.4 141.98L454.88 142.13L455.35 142.26L455.82 142.39L456.3 142.5L456.77 142.61L457.24 142.7L457.72 142.79L458.19 142.87L458.66 142.94L459.14 143.01L459.61 143.07L460.08 143.12L460.56 143.17L461.03 143.21L461.5 143.25L461.98 143.29L462.45 143.32L462.92 143.35L463.39 143.38L463.87 143.4L464.34 143.42L464.81 143.44L465.29 143.46L465.76 143.48L466.23 143.49L466.71 143.5L467.18 143.51L467.65 143.52L468.13 143.53L468.6 143.54L469.07 143.55L469.55 143.55L470.02 143.56L470.49 143.56L470.97 143.57L471.44 143.57L471.91 143.57L472.39 143.57L472.86 143.58L473.33 143.58L473.81 143.58L474.28 143.58L474.75 143.58L475.23 143.59L475.7 143.59L476.17 143.59L476.65 143.59L477.12 143.59L477.59 143.59L478.07 143.59L478.54 143.59L479.01 143.59L479.49 143.59L479.96 143.59L480.43 143.59L480.91 143.59L481.38 143.59L481.85 143.59L482.32 143.59L482.8 143.59L483.27 143.59L483.74 143.59L484.22 143.59L484.69 143.59L485.16 143.59L485.64 143.59L486.11 143.59L486.58 143.59L487.06 143.59L487.53 143.59L488 143.59L488.48 143.59L488.95 143.59L489.42 143.59L489.9 143.59L490.37 143.59L490.84 143.59L491.32 143.59L491.79 143.59L492.26 143.59L492.74 143.59L493.21 143.59L493.68 143.59L494.16 143.59L494.63 143.59L495.1 143.59L495.58 143.59L496.05 143.59L496.52 143.59L497 143.59L497.47 143.59L497.94 143.59L498.42 143.59L498.89 143.59L499.36 143.59L499.84 143.59L500.31 143.59L500.78 143.59L501.25 143.59L501.73 143.59L502.2 143.59L502.67 143.59L503.15 143.59L503.62 143.59L504.09 143.59L504.57 143.59L505.04 143.59L505.51 143.59L505.99 143.59L506.46 143.59L506.93 143.59L507.41 143.59L507.88 143.59L508.35 143.59L508.83 143.59L509.3 143.59" fill="none" stroke="#DCC862" stroke-width="1.45"/>
<path d="M320.5 140.5V148.5M318.5 140.5h4M318.5 148.5h4M325.5 132.5V141.5M323.5 132.5h4M323.5 141.5h4M330.5 141.5V149.5M328.5 141.5h4M328.5 149.5h4M335.5 137.5V146.5M333.5 137.5h4M333.5 146.5h4M340.5 137.5V146.5M338.5 137.5h4M338.5 146.5h4M345.5 140.5V149.5M343.5 140.5h4M343.5 149.5h4M350.5 131.5V140.5M348.5 131.5h4M348.5 140.5h4M355.5 145.5V153.5M353.5 145.5h4M353.5 153.5h4M361.5 130.5V139.5M359.5 130.5h4M359.5 139.5h4M366.5 146.5V155.5M364.5 146.5h4M364.5 155.5h4M371.5 126.5V135.5M369.5 126.5h4M369.5 135.5h4M376.5 139.5V148.5M374.5 139.5h4M374.5 148.5h4M381.5 116.5V126.5M379.5 116.5h4M379.5 126.5h4M386.5 110.5V119.5M384.5 110.5h4M384.5 119.5h4M391.5 79.5V89.5M389.5 79.5h4M389.5 89.5h4M396.5 54.5V66.5M394.5 54.5h4M394.5 66.5h4M402.5 39.5V51.5M400.5 39.5h4M400.5 51.5h4M407.5 15.5V27.5M405.5 15.5h4M405.5 27.5h4M412.5 15.5V26.5M410.5 15.5h4M410.5 26.5h4M417.5 18.5V30.5M415.5 18.5h4M415.5 30.5h4M422.5 54.5V65.5M420.5 54.5h4M420.5 65.5h4M427.5 66.5V77.5M425.5 66.5h4M425.5 77.5h4M433.5 91.5V101.5M431.5 91.5h4M431.5 101.5h4M438.5 119.5V129.5M436.5 119.5h4M436.5 129.5h4M442.5 128.5V137.5M440.5 128.5h4M440.5 137.5h4M448.5 146.5V154.5M446.5 146.5h4M446.5 154.5h4M453.5 128.5V137.5M451.5 128.5h4M451.5 137.5h4M458.5 147.5V156.5M456.5 147.5h4M456.5 156.5h4M463.5 130.5V139.5M461.5 130.5h4M461.5 139.5h4M468.5 146.5V154.5M466.5 146.5h4M466.5 154.5h4M473.5 128.5V137.5M471.5 128.5h4M471.5 137.5h4M478.5 144.5V152.5M476.5 144.5h4M476.5 152.5h4M484.5 132.5V141.5M482.5 132.5h4M482.5 141.5h4M489.5 139.5V148.5M487.5 139.5h4M487.5 148.5h4M494.5 139.5V148.5M492.5 139.5h4M492.5 148.5h4M499.5 136.5V145.5M497.5 136.5h4M497.5 145.5h4M504.5 141.5V150.5M502.5 141.5h4M502.5 150.5h4M509.5 139.5V147.5M507.5 139.5h4M507.5 147.5h4" stroke="#403A38" stroke-width="1" fill="none"/>
<ellipse cx="320" cy="144.4" rx="2.25" ry="2.7" fill="url(#gy)" stroke="#5E4A1E" stroke-width="0.6"/>
<ellipse cx="325.5" cy="137.4" rx="2.25" ry="2.7" fill="url(#gy)" stroke="#5E4A1E" stroke-width="0.6"/>
<ellipse cx="330.5" cy="145.5" rx="2.25" ry="2.7" fill="url(#gy)" stroke="#5E4A1E" stroke-width="0.6"/>
<ellipse cx="335.6" cy="141.7" rx="2.25" ry="2.7" fill="url(#gy)" stroke="#5E4A1E" stroke-width="0.6"/>
<ellipse cx="340.7" cy="142" rx="2.25" ry="2.7" fill="url(#gy)" stroke="#5E4A1E" stroke-width="0.6"/>
<ellipse cx="345.9" cy="145.2" rx="2.25" ry="2.7" fill="url(#gy)" stroke="#5E4A1E" stroke-width="0.6"/>
<ellipse cx="350.8" cy="136.4" rx="2.25" ry="2.7" fill="url(#gy)" stroke="#5E4A1E" stroke-width="0.6"/>
<ellipse cx="355.8" cy="149.4" rx="2.25" ry="2.7" fill="url(#gy)" stroke="#5E4A1E" stroke-width="0.6"/>
<ellipse cx="361" cy="135" rx="2.25" ry="2.7" fill="url(#gy)" stroke="#5E4A1E" stroke-width="0.6"/>
<ellipse cx="366.2" cy="150.8" rx="2.25" ry="2.7" fill="url(#gy)" stroke="#5E4A1E" stroke-width="0.6"/>
<ellipse cx="371.5" cy="131.2" rx="2.25" ry="2.7" fill="url(#gy)" stroke="#5E4A1E" stroke-width="0.6"/>
<ellipse cx="376.3" cy="143.7" rx="2.25" ry="2.7" fill="url(#gy)" stroke="#5E4A1E" stroke-width="0.6"/>
<ellipse cx="381.6" cy="121.7" rx="2.25" ry="2.7" fill="url(#gy)" stroke="#5E4A1E" stroke-width="0.6"/>
<ellipse cx="386.6" cy="115.1" rx="2.25" ry="2.7" fill="url(#gy)" stroke="#5E4A1E" stroke-width="0.6"/>
<ellipse cx="391.7" cy="84.4" rx="2.25" ry="2.7" fill="url(#gy)" stroke="#5E4A1E" stroke-width="0.6"/>
<ellipse cx="396.9" cy="60.5" rx="2.25" ry="2.7" fill="url(#gy)" stroke="#5E4A1E" stroke-width="0.6"/>
<ellipse cx="402.1" cy="45.4" rx="2.25" ry="2.7" fill="url(#gy)" stroke="#5E4A1E" stroke-width="0.6"/>
<ellipse cx="407.3" cy="21.9" rx="2.25" ry="2.7" fill="url(#gy)" stroke="#5E4A1E" stroke-width="0.6"/>
<ellipse cx="412.3" cy="21" rx="2.25" ry="2.7" fill="url(#gy)" stroke="#5E4A1E" stroke-width="0.6"/>
<ellipse cx="417.5" cy="24.4" rx="2.25" ry="2.7" fill="url(#gy)" stroke="#5E4A1E" stroke-width="0.6"/>
<ellipse cx="422.5" cy="60.4" rx="2.25" ry="2.7" fill="url(#gy)" stroke="#5E4A1E" stroke-width="0.6"/>
<ellipse cx="427.7" cy="71.8" rx="2.25" ry="2.7" fill="url(#gy)" stroke="#5E4A1E" stroke-width="0.6"/>
<ellipse cx="433" cy="96.8" rx="2.25" ry="2.7" fill="url(#gy)" stroke="#5E4A1E" stroke-width="0.6"/>
<ellipse cx="438" cy="124.5" rx="2.25" ry="2.7" fill="url(#gy)" stroke="#5E4A1E" stroke-width="0.6"/>
<ellipse cx="442.6" cy="132.9" rx="2.25" ry="2.7" fill="url(#gy)" stroke="#5E4A1E" stroke-width="0.6"/>
<ellipse cx="448.1" cy="150.4" rx="2.25" ry="2.7" fill="url(#gy)" stroke="#5E4A1E" stroke-width="0.6"/>
<ellipse cx="453.3" cy="132.9" rx="2.25" ry="2.7" fill="url(#gy)" stroke="#5E4A1E" stroke-width="0.6"/>
<ellipse cx="458.4" cy="152.2" rx="2.25" ry="2.7" fill="url(#gy)" stroke="#5E4A1E" stroke-width="0.6"/>
<ellipse cx="463.3" cy="134.6" rx="2.25" ry="2.7" fill="url(#gy)" stroke="#5E4A1E" stroke-width="0.6"/>
<ellipse cx="468.6" cy="150.4" rx="2.25" ry="2.7" fill="url(#gy)" stroke="#5E4A1E" stroke-width="0.6"/>
<ellipse cx="473.9" cy="132.9" rx="2.25" ry="2.7" fill="url(#gy)" stroke="#5E4A1E" stroke-width="0.6"/>
<ellipse cx="478.8" cy="148.6" rx="2.25" ry="2.7" fill="url(#gy)" stroke="#5E4A1E" stroke-width="0.6"/>
<ellipse cx="484" cy="137.2" rx="2.25" ry="2.7" fill="url(#gy)" stroke="#5E4A1E" stroke-width="0.6"/>
<ellipse cx="489.3" cy="144.3" rx="2.25" ry="2.7" fill="url(#gy)" stroke="#5E4A1E" stroke-width="0.6"/>
<ellipse cx="494" cy="144.3" rx="2.25" ry="2.7" fill="url(#gy)" stroke="#5E4A1E" stroke-width="0.6"/>
<ellipse cx="499.3" cy="141.1" rx="2.25" ry="2.7" fill="url(#gy)" stroke="#5E4A1E" stroke-width="0.6"/>
<ellipse cx="504.6" cy="145.7" rx="2.25" ry="2.7" fill="url(#gy)" stroke="#5E4A1E" stroke-width="0.6"/>
<ellipse cx="509.3" cy="143.4" rx="2.25" ry="2.7" fill="url(#gy)" stroke="#5E4A1E" stroke-width="0.6"/>
</g>
<rect x="311.4" y="6.3" width="199" height="160.5" fill="none" stroke="#111" stroke-width="1.3"/>
<path d="M311.4 166.8v-3.5M311.4 6.3v3.5M361.15 166.8v-3.5M361.15 6.3v3.5M410.9 166.8v-3.5M410.9 6.3v3.5M460.65 166.8v-3.5M460.65 6.3v3.5M510.4 166.8v-3.5M510.4 6.3v3.5M336.27 166.8v-2M336.27 6.3v2M386.02 166.8v-2M386.02 6.3v2M435.77 166.8v-2M435.77 6.3v2M485.52 166.8v-2M485.52 6.3v2M311.4 166.8h3.5M510.4 166.8h-3.5M311.4 126.68h3.5M510.4 126.68h-3.5M311.4 86.55h3.5M510.4 86.55h-3.5M311.4 46.43h3.5M510.4 46.43h-3.5M311.4 6.3h3.5M510.4 6.3h-3.5M311.4 146.74h2M510.4 146.74h-2M311.4 106.61h2M510.4 106.61h-2M311.4 66.49h2M510.4 66.49h-2M311.4 26.36h2M510.4 26.36h-2" stroke="#111" stroke-width="1.1" fill="none"/>
<g font-family='"Liberation Serif", "Times New Roman", serif' font-size="13.5" fill="#111" class="tx">
<text transform="translate(311.4 181) scale(1 1.15)" text-anchor="middle">-0.8</text>
<text transform="translate(361.15 181) scale(1 1.15)" text-anchor="middle">-0.4</text>
<text transform="translate(410.9 181) scale(1 1.15)" text-anchor="middle">0.0</text>
<text transform="translate(460.65 181) scale(1 1.15)" text-anchor="middle">0.4</text>
<text transform="translate(510.4 181) scale(1 1.15)" text-anchor="middle">0.8</text>
<text transform="translate(307.8 171.4) scale(1 1.15)" text-anchor="end">900</text>
<text transform="translate(307.8 131.28) scale(1 1.15)" text-anchor="end">1200</text>
<text transform="translate(307.8 91.15) scale(1 1.15)" text-anchor="end">1500</text>
<text transform="translate(307.8 51.03) scale(1 1.15)" text-anchor="end">1800</text>
<text transform="translate(307.8 10.9) scale(1 1.15)" text-anchor="end">2100</text>
</g>
<text transform="translate(411.4 196) scale(1 1.07)" text-anchor="middle" font-family='"Liberation Serif", "Times New Roman", serif' font-size="16.3" fill="#111" class="tx">Path delay (mm)</text>
<text transform="translate(274.8 96.85) rotate(-90)" text-anchor="middle" font-family='"Liberation Serif", "Times New Roman", serif' font-size="16" fill="#111" class="tx">Coincidence Counts (s<tspan font-size="10" dy="-7.5">-1</tspan><tspan dy="7.5">)</tspan></text>
<text transform="translate(501 27) scale(1 1.08)" text-anchor="end" font-family='"Liberation Serif", "Times New Roman", serif' font-size="16" font-weight="bold" fill="#111" class="tx">(c)</text>
<clipPath id="cld"><rect x="310.7" y="205.5" width="198.7" height="159.8"/></clipPath>
<g clip-path="url(#cld)">
<path d="M311.8 340.18L312.28 340.18L312.75 340.18L313.23 340.18L313.71 340.18L314.19 340.18L314.66 340.18L315.14 340.18L315.62 340.18L316.09 340.18L316.57 340.18L317.05 340.18L317.52 340.18L318 340.18L318.48 340.18L318.95 340.18L319.43 340.18L319.91 340.18L320.39 340.18L320.86 340.18L321.34 340.18L321.82 340.18L322.29 340.18L322.77 340.18L323.25 340.18L323.73 340.18L324.2 340.18L324.68 340.18L325.16 340.18L325.63 340.18L326.11 340.18L326.59 340.18L327.06 340.18L327.54 340.18L328.02 340.18L328.5 340.18L328.97 340.18L329.45 340.18L329.93 340.18L330.4 340.18L330.88 340.18L331.36 340.18L331.83 340.18L332.31 340.18L332.79 340.18L333.26 340.18L333.74 340.18L334.22 340.18L334.7 340.18L335.17 340.18L335.65 340.18L336.13 340.18L336.6 340.18L337.08 340.18L337.56 340.18L338.04 340.18L338.51 340.18L338.99 340.18L339.47 340.18L339.94 340.18L340.42 340.18L340.9 340.18L341.37 340.18L341.85 340.18L342.33 340.18L342.81 340.18L343.28 340.18L343.76 340.18L344.24 340.18L344.71 340.18L345.19 340.18L345.67 340.18L346.14 340.18L346.62 340.18L347.1 340.18L347.58 340.18L348.05 340.18L348.53 340.18L349.01 340.18L349.48 340.18L349.96 340.18L350.44 340.18L350.91 340.18L351.39 340.18L351.87 340.18L352.35 340.18L352.82 340.18L353.3 340.18L353.78 340.18L354.25 340.18L354.73 340.18L355.21 340.18L355.68 340.18L356.16 340.18L356.64 340.17L357.12 340.17L357.59 340.17L358.07 340.17L358.55 340.17L359.02 340.17L359.5 340.16L359.98 340.16L360.45 340.16L360.93 340.15L361.41 340.15L361.88 340.14L362.36 340.13L362.84 340.12L363.32 340.11L363.79 340.1L364.27 340.09L364.75 340.07L365.22 340.05L365.7 340.03L366.18 340L366.65 339.97L367.13 339.93L367.61 339.89L368.09 339.85L368.56 339.79L369.04 339.73L369.52 339.66L369.99 339.59L370.47 339.5L370.95 339.39L371.43 339.28L371.9 339.15L372.38 339.01L372.86 338.84L373.33 338.66L373.81 338.46L374.29 338.23L374.76 337.98L375.24 337.7L375.72 337.39L376.19 337.05L376.67 336.67L377.15 336.25L377.63 335.8L378.1 335.3L378.58 334.76L379.06 334.17L379.53 333.53L380.01 332.83L380.49 332.08L380.97 331.26L381.44 330.39L381.92 329.45L382.4 328.44L382.87 327.36L383.35 326.21L383.83 324.99L384.3 323.69L384.78 322.31L385.26 320.85L385.74 319.31L386.21 317.7L386.69 316L387.17 314.22L387.64 312.36L388.12 310.43L388.6 308.42L389.07 306.33L389.55 304.17L390.03 301.95L390.5 299.65L390.98 297.3L391.46 294.89L391.94 292.42L392.41 289.91L392.89 287.36L393.37 284.78L393.84 282.16L394.32 279.53L394.8 276.88L395.27 274.23L395.75 271.58L396.23 268.94L396.71 266.32L397.18 263.73L397.66 261.17L398.14 258.65L398.61 256.19L399.09 253.79L399.57 251.45L400.05 249.19L400.52 247.01L401 244.92L401.48 242.93L401.95 241.03L402.43 239.25L402.91 237.57L403.38 236.02L403.86 234.58L404.34 233.26L404.81 232.07L405.29 231L405.77 230.06L406.25 229.25L406.72 228.56L407.2 228L407.68 227.55L408.15 227.22L408.63 226.99L409.11 226.86L409.59 226.82L410.06 226.84L410.54 226.94L411.02 227.13L411.49 227.42L411.97 227.83L412.45 228.36L412.92 229L413.4 229.78L413.88 230.67L414.36 231.7L414.83 232.84L415.31 234.12L415.79 235.52L416.26 237.03L416.74 238.67L417.22 240.42L417.69 242.28L418.17 244.24L418.65 246.29L419.12 248.44L419.6 250.68L420.08 252.99L420.56 255.37L421.03 257.81L421.51 260.31L421.99 262.86L422.46 265.44L422.94 268.05L423.42 270.69L423.89 273.34L424.37 275.99L424.85 278.64L425.33 281.28L425.8 283.9L426.28 286.49L426.76 289.06L427.23 291.58L427.71 294.06L428.19 296.49L428.67 298.86L429.14 301.18L429.62 303.43L430.1 305.61L430.57 307.72L431.05 309.76L431.53 311.72L432 313.6L432.48 315.41L432.96 317.13L433.44 318.78L433.91 320.34L434.39 321.82L434.87 323.23L435.34 324.56L435.82 325.81L436.3 326.98L436.77 328.08L437.25 329.12L437.73 330.08L438.21 330.98L438.68 331.81L439.16 332.58L439.64 333.3L440.11 333.96L440.59 334.57L441.07 335.13L441.54 335.64L442.02 336.11L442.5 336.53L442.98 336.92L443.45 337.28L443.93 337.6L444.41 337.89L444.88 338.15L445.36 338.38L445.84 338.59L446.31 338.78L446.79 338.95L447.27 339.1L447.75 339.24L448.22 339.36L448.7 339.46L449.18 339.56L449.65 339.64L450.13 339.71L450.61 339.77L451.08 339.83L451.56 339.88L452.04 339.92L452.51 339.96L452.99 339.99L453.47 340.02L453.95 340.04L454.42 340.06L454.9 340.08L455.38 340.1L455.85 340.11L456.33 340.12L456.81 340.13L457.28 340.14L457.76 340.14L458.24 340.15L458.72 340.16L459.19 340.16L459.67 340.16L460.15 340.17L460.62 340.17L461.1 340.17L461.58 340.17L462.06 340.17L462.53 340.17L463.01 340.18L463.49 340.18L463.96 340.18L464.44 340.18L464.92 340.18L465.39 340.18L465.87 340.18L466.35 340.18L466.82 340.18L467.3 340.18L467.78 340.18L468.26 340.18L468.73 340.18L469.21 340.18L469.69 340.18L470.16 340.18L470.64 340.18L471.12 340.18L471.6 340.18L472.07 340.18L472.55 340.18L473.03 340.18L473.5 340.18L473.98 340.18L474.46 340.18L474.93 340.18L475.41 340.18L475.89 340.18L476.37 340.18L476.84 340.18L477.32 340.18L477.8 340.18L478.27 340.18L478.75 340.18L479.23 340.18L479.7 340.18L480.18 340.18L480.66 340.18L481.13 340.18L481.61 340.18L482.09 340.18L482.57 340.18L483.04 340.18L483.52 340.18L484 340.18L484.47 340.18L484.95 340.18L485.43 340.18L485.9 340.18L486.38 340.18L486.86 340.18L487.34 340.18L487.81 340.18L488.29 340.18L488.77 340.18L489.24 340.18L489.72 340.18L490.2 340.18L490.67 340.18L491.15 340.18L491.63 340.18L492.11 340.18L492.58 340.18L493.06 340.18L493.54 340.18L494.01 340.18L494.49 340.18L494.97 340.18L495.44 340.18L495.92 340.18L496.4 340.18L496.88 340.18L497.35 340.18L497.83 340.18L498.31 340.18L498.78 340.18L499.26 340.18L499.74 340.18L500.21 340.18L500.69 340.18L501.17 340.18L501.65 340.18L502.12 340.18L502.6 340.18" fill="none" stroke="#DCC862" stroke-width="1.45"/>
<path d="M311.5 337.5V340.5M309.5 337.5h4M309.5 340.5h4M315.5 338.5V341.5M313.5 338.5h4M313.5 341.5h4M320.5 337.5V340.5M318.5 337.5h4M318.5 340.5h4M325.5 342.5V345.5M323.5 342.5h4M323.5 345.5h4M330.5 335.5V339.5M328.5 335.5h4M328.5 339.5h4M335.5 340.5V343.5M333.5 340.5h4M333.5 343.5h4M340.5 339.5V342.5M338.5 339.5h4M338.5 342.5h4M345.5 335.5V338.5M343.5 335.5h4M343.5 338.5h4M350.5 344.5V347.5M348.5 344.5h4M348.5 347.5h4M355.5 339.5V343.5M353.5 339.5h4M353.5 343.5h4M360.5 341.5V345.5M358.5 341.5h4M358.5 345.5h4M365.5 330.5V337.5M363.5 330.5h4M363.5 337.5h4M370.5 343.5V347.5M368.5 343.5h4M368.5 347.5h4M374.5 328.5V335.5M372.5 328.5h4M372.5 335.5h4M379.5 329.5V332.5M377.5 329.5h4M377.5 332.5h4M384.5 319.5V322.5M382.5 319.5h4M382.5 322.5h4M389.5 294.5V300.5M387.5 294.5h4M387.5 300.5h4M394.5 281.5V287.5M392.5 281.5h4M392.5 287.5h4M399.5 250.5V256.5M397.5 250.5h4M397.5 256.5h4M404.5 240.5V246.5M402.5 240.5h4M402.5 246.5h4M409.5 219.5V226.5M407.5 219.5h4M407.5 226.5h4M414.5 232.5V239.5M412.5 232.5h4M412.5 239.5h4M419.5 250.5V256.5M417.5 250.5h4M417.5 256.5h4M423.5 271.5V277.5M421.5 271.5h4M421.5 277.5h4M428.5 292.5V298.5M426.5 292.5h4M426.5 298.5h4M433.5 308.5V314.5M431.5 308.5h4M431.5 314.5h4M438.5 336.5V339.5M436.5 336.5h4M436.5 339.5h4M443.5 330.5V333.5M441.5 330.5h4M441.5 333.5h4M448.5 343.5V346.5M446.5 343.5h4M446.5 346.5h4M453.5 331.5V334.5M451.5 331.5h4M451.5 334.5h4M458.5 343.5V346.5M456.5 343.5h4M456.5 346.5h4M463.5 335.5V339.5M461.5 335.5h4M461.5 339.5h4M468.5 339.5V342.5M466.5 339.5h4M466.5 342.5h4M473.5 339.5V347.5M471.5 339.5h4M471.5 347.5h4M478.5 333.5V337.5M476.5 333.5h4M476.5 337.5h4M483.5 339.5V343.5M481.5 339.5h4M481.5 343.5h4M487.5 336.5V340.5M485.5 336.5h4M485.5 340.5h4M493.5 341.5V344.5M491.5 341.5h4M491.5 344.5h4M497.5 335.5V339.5M495.5 335.5h4M495.5 339.5h4M502.5 340.5V343.5M500.5 340.5h4M500.5 343.5h4" stroke="#403A38" stroke-width="1" fill="none"/>
<ellipse cx="311.8" cy="338.8" rx="2.25" ry="2.7" fill="url(#gy)" stroke="#5E4A1E" stroke-width="0.6"/>
<ellipse cx="315.8" cy="340.3" rx="2.25" ry="2.7" fill="url(#gy)" stroke="#5E4A1E" stroke-width="0.6"/>
<ellipse cx="320.8" cy="339.1" rx="2.25" ry="2.7" fill="url(#gy)" stroke="#5E4A1E" stroke-width="0.6"/>
<ellipse cx="325.6" cy="343.8" rx="2.25" ry="2.7" fill="url(#gy)" stroke="#5E4A1E" stroke-width="0.6"/>
<ellipse cx="330.7" cy="337.4" rx="2.25" ry="2.7" fill="url(#gy)" stroke="#5E4A1E" stroke-width="0.6"/>
<ellipse cx="335.7" cy="341.7" rx="2.25" ry="2.7" fill="url(#gy)" stroke="#5E4A1E" stroke-width="0.6"/>
<ellipse cx="340.5" cy="341.3" rx="2.25" ry="2.7" fill="url(#gy)" stroke="#5E4A1E" stroke-width="0.6"/>
<ellipse cx="345.4" cy="337.2" rx="2.25" ry="2.7" fill="url(#gy)" stroke="#5E4A1E" stroke-width="0.6"/>
<ellipse cx="350.3" cy="345.7" rx="2.25" ry="2.7" fill="url(#gy)" stroke="#5E4A1E" stroke-width="0.6"/>
<ellipse cx="355.4" cy="341.5" rx="2.25" ry="2.7" fill="url(#gy)" stroke="#5E4A1E" stroke-width="0.6"/>
<ellipse cx="360.5" cy="343.4" rx="2.25" ry="2.7" fill="url(#gy)" stroke="#5E4A1E" stroke-width="0.6"/>
<ellipse cx="365.1" cy="333.8" rx="2.25" ry="2.7" fill="url(#gy)" stroke="#5E4A1E" stroke-width="0.6"/>
<ellipse cx="370" cy="345.4" rx="2.25" ry="2.7" fill="url(#gy)" stroke="#5E4A1E" stroke-width="0.6"/>
<ellipse cx="374.6" cy="332.1" rx="2.25" ry="2.7" fill="url(#gy)" stroke="#5E4A1E" stroke-width="0.6"/>
<ellipse cx="379.7" cy="330.6" rx="2.25" ry="2.7" fill="url(#gy)" stroke="#5E4A1E" stroke-width="0.6"/>
<ellipse cx="384.6" cy="321.1" rx="2.25" ry="2.7" fill="url(#gy)" stroke="#5E4A1E" stroke-width="0.6"/>
<ellipse cx="389.5" cy="297.9" rx="2.25" ry="2.7" fill="url(#gy)" stroke="#5E4A1E" stroke-width="0.6"/>
<ellipse cx="394.5" cy="284.1" rx="2.25" ry="2.7" fill="url(#gy)" stroke="#5E4A1E" stroke-width="0.6"/>
<ellipse cx="399.4" cy="253.4" rx="2.25" ry="2.7" fill="url(#gy)" stroke="#5E4A1E" stroke-width="0.6"/>
<ellipse cx="404.4" cy="243.1" rx="2.25" ry="2.7" fill="url(#gy)" stroke="#5E4A1E" stroke-width="0.6"/>
<ellipse cx="409.4" cy="223" rx="2.25" ry="2.7" fill="url(#gy)" stroke="#5E4A1E" stroke-width="0.6"/>
<ellipse cx="414.4" cy="236" rx="2.25" ry="2.7" fill="url(#gy)" stroke="#5E4A1E" stroke-width="0.6"/>
<ellipse cx="419.4" cy="253.8" rx="2.25" ry="2.7" fill="url(#gy)" stroke="#5E4A1E" stroke-width="0.6"/>
<ellipse cx="423.9" cy="274.9" rx="2.25" ry="2.7" fill="url(#gy)" stroke="#5E4A1E" stroke-width="0.6"/>
<ellipse cx="428.9" cy="295.4" rx="2.25" ry="2.7" fill="url(#gy)" stroke="#5E4A1E" stroke-width="0.6"/>
<ellipse cx="433.9" cy="311.2" rx="2.25" ry="2.7" fill="url(#gy)" stroke="#5E4A1E" stroke-width="0.6"/>
<ellipse cx="438.8" cy="337.7" rx="2.25" ry="2.7" fill="url(#gy)" stroke="#5E4A1E" stroke-width="0.6"/>
<ellipse cx="443.6" cy="332.1" rx="2.25" ry="2.7" fill="url(#gy)" stroke="#5E4A1E" stroke-width="0.6"/>
<ellipse cx="448.6" cy="344.7" rx="2.25" ry="2.7" fill="url(#gy)" stroke="#5E4A1E" stroke-width="0.6"/>
<ellipse cx="453.3" cy="333.2" rx="2.25" ry="2.7" fill="url(#gy)" stroke="#5E4A1E" stroke-width="0.6"/>
<ellipse cx="458.4" cy="344.7" rx="2.25" ry="2.7" fill="url(#gy)" stroke="#5E4A1E" stroke-width="0.6"/>
<ellipse cx="463.4" cy="337.4" rx="2.25" ry="2.7" fill="url(#gy)" stroke="#5E4A1E" stroke-width="0.6"/>
<ellipse cx="468.3" cy="340.6" rx="2.25" ry="2.7" fill="url(#gy)" stroke="#5E4A1E" stroke-width="0.6"/>
<ellipse cx="473.4" cy="343.4" rx="2.25" ry="2.7" fill="url(#gy)" stroke="#5E4A1E" stroke-width="0.6"/>
<ellipse cx="478.1" cy="335.5" rx="2.25" ry="2.7" fill="url(#gy)" stroke="#5E4A1E" stroke-width="0.6"/>
<ellipse cx="483.3" cy="341.5" rx="2.25" ry="2.7" fill="url(#gy)" stroke="#5E4A1E" stroke-width="0.6"/>
<ellipse cx="487.9" cy="338.4" rx="2.25" ry="2.7" fill="url(#gy)" stroke="#5E4A1E" stroke-width="0.6"/>
<ellipse cx="493.1" cy="343.1" rx="2.25" ry="2.7" fill="url(#gy)" stroke="#5E4A1E" stroke-width="0.6"/>
<ellipse cx="497.8" cy="337.4" rx="2.25" ry="2.7" fill="url(#gy)" stroke="#5E4A1E" stroke-width="0.6"/>
<ellipse cx="502.6" cy="342.3" rx="2.25" ry="2.7" fill="url(#gy)" stroke="#5E4A1E" stroke-width="0.6"/>
</g>
<rect x="310.7" y="205.5" width="198.7" height="159.8" fill="none" stroke="#111" stroke-width="1.3"/>
<path d="M313.94 365.3v-3.5M313.94 205.5v3.5M362 365.3v-3.5M362 205.5v3.5M410.05 365.3v-3.5M410.05 205.5v3.5M458.1 365.3v-3.5M458.1 205.5v3.5M506.16 365.3v-3.5M506.16 205.5v3.5M337.97 365.3v-2M337.97 205.5v2M386.02 365.3v-2M386.02 205.5v2M434.08 365.3v-2M434.08 205.5v2M482.13 365.3v-2M482.13 205.5v2M310.7 357.8h3.5M509.4 357.8h-3.5M310.7 321.71h3.5M509.4 321.71h-3.5M310.7 285.62h3.5M509.4 285.62h-3.5M310.7 249.53h3.5M509.4 249.53h-3.5M310.7 213.44h3.5M509.4 213.44h-3.5M310.7 339.76h2M509.4 339.76h-2M310.7 303.67h2M509.4 303.67h-2M310.7 267.58h2M509.4 267.58h-2M310.7 231.49h2M509.4 231.49h-2" stroke="#111" stroke-width="1.1" fill="none"/>
<g font-family='"Liberation Serif", "Times New Roman", serif' font-size="13.5" fill="#111" class="tx">
<text transform="translate(313.94 379.5) scale(1 1.15)" text-anchor="middle">-0.8</text>
<text transform="translate(362 379.5) scale(1 1.15)" text-anchor="middle">-0.4</text>
<text transform="translate(410.05 379.5) scale(1 1.15)" text-anchor="middle">0.0</text>
<text transform="translate(458.1 379.5) scale(1 1.15)" text-anchor="middle">0.4</text>
<text transform="translate(506.16 379.5) scale(1 1.15)" text-anchor="middle">0.8</text>
<text transform="translate(307.1 362.4) scale(1 1.15)" text-anchor="end">2700</text>
<text transform="translate(307.1 326.31) scale(1 1.15)" text-anchor="end">3600</text>
<text transform="translate(307.1 290.22) scale(1 1.15)" text-anchor="end">4500</text>
<text transform="translate(307.1 254.13) scale(1 1.15)" text-anchor="end">5400</text>
<text transform="translate(307.1 218.04) scale(1 1.15)" text-anchor="end">6300</text>
</g>
<text transform="translate(410.55 394.5) scale(1 1.07)" text-anchor="middle" font-family='"Liberation Serif", "Times New Roman", serif' font-size="16.3" fill="#111" class="tx">Path delay (mm)</text>
<text transform="translate(274.8 289.8) rotate(-90)" text-anchor="middle" font-family='"Liberation Serif", "Times New Roman", serif' font-size="16" fill="#111" class="tx">Coincidence Counts (s<tspan font-size="10" dy="-7.5">-1</tspan><tspan dy="7.5">)</tspan></text>
<text transform="translate(501.7 224.8) scale(1 1.08)" text-anchor="end" font-family='"Liberation Serif", "Times New Roman", serif' font-size="16" font-weight="bold" fill="#111" class="tx">(d)</text>
</svg></body></html>
